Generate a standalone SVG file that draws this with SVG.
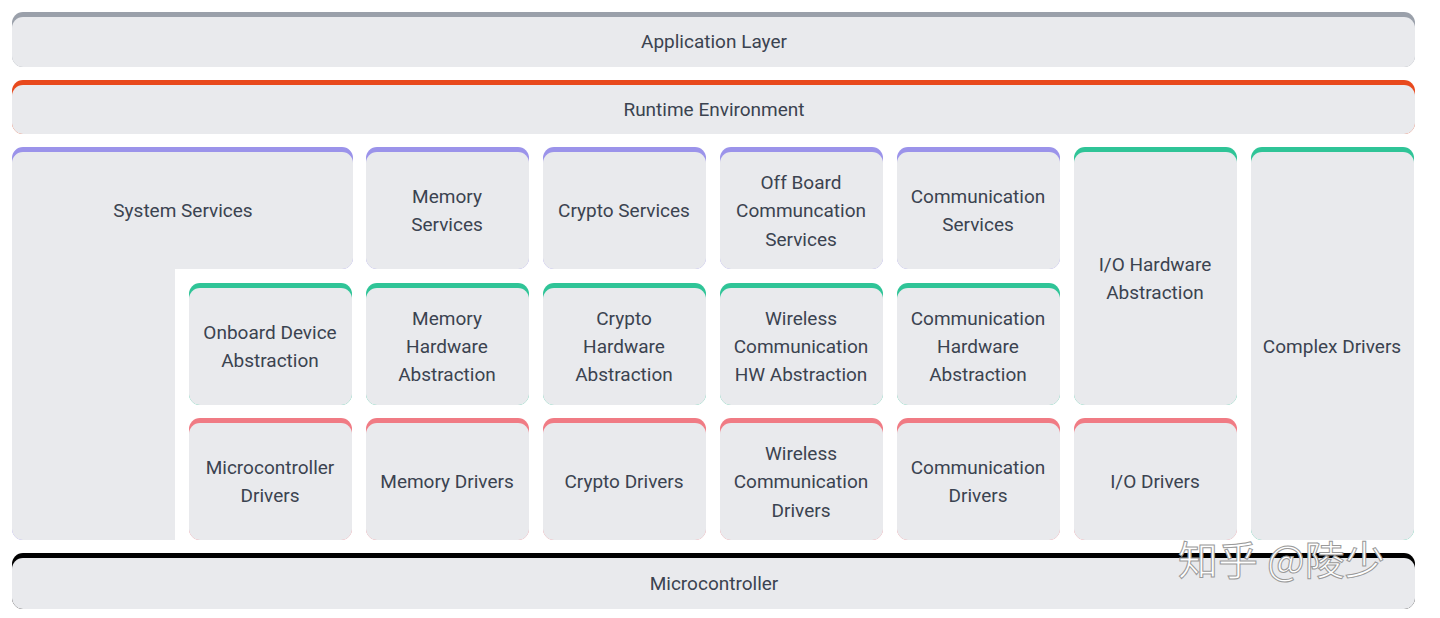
<svg xmlns="http://www.w3.org/2000/svg" width="1440" height="618" viewBox="0 0 1440 618">
<style>
.b{fill:#e9eaed}
.t{font-family:Roboto,"Liberation Sans",sans-serif;font-size:19px;fill:#3b4350;text-anchor:middle}
.g{fill:#9aa0aa}.r{fill:#e8491d}.p{fill:#9b93ea}.gr{fill:#2fc497}.pk{fill:#f07b84}.k{fill:#000}
.w{font-family:"Noto Sans CJK SC",sans-serif;font-size:40px;fill:#fff;stroke:#999;stroke-width:1;text-anchor:start}
</style>
<rect width="1440" height="618" fill="#fff"/>
<g id="app"><rect class="g" x="12" y="12" width="1403" height="55" rx="11"/><rect class="b" x="12" y="17" width="1403" height="50" rx="11"/><text class="t" x="714" y="48">Application Layer</text></g>
<g id="rte"><rect class="r" x="12" y="80" width="1403" height="54" rx="11"/><rect class="b" x="12" y="85" width="1403" height="49" rx="11"/><text class="t" x="714" y="116">Runtime Environment</text></g>
<g id="sys"><path class="p" d="M23 147H342a11 11 0 0 1 11 11V258a11 11 0 0 1-11 11H175V540H23a11 11 0 0 1-11-11V158a11 11 0 0 1 11-11Z"/><path class="b" d="M23 152H342a11 11 0 0 1 11 11V258a11 11 0 0 1-11 11H175V540H23a11 11 0 0 1-11-11V163a11 11 0 0 1 11-11Z"/><text class="t" x="183" y="217">System Services</text></g>
<g id="memsvc"><rect class="p" x="366" y="147" width="163" height="122" rx="11"/><rect class="b" x="366" y="152" width="163" height="117" rx="11"/><text class="t" x="447" y="203">Memory</text><text class="t" x="447" y="231">Services</text></g>
<g id="crysvc"><rect class="p" x="543" y="147" width="163" height="122" rx="11"/><rect class="b" x="543" y="152" width="163" height="117" rx="11"/><text class="t" x="624" y="217">Crypto Services</text></g>
<g id="offsvc"><rect class="p" x="720" y="147" width="163" height="122" rx="11"/><rect class="b" x="720" y="152" width="163" height="117" rx="11"/><text class="t" x="801" y="189">Off Board</text><text class="t" x="801" y="217">Communcation</text><text class="t" x="801" y="246">Services</text></g>
<g id="comsvc"><rect class="p" x="897" y="147" width="163" height="122" rx="11"/><rect class="b" x="897" y="152" width="163" height="117" rx="11"/><text class="t" x="978" y="203">Communication</text><text class="t" x="978" y="231">Services</text></g>
<g id="ioha"><rect class="gr" x="1074" y="147" width="163" height="258" rx="11"/><rect class="b" x="1074" y="152" width="163" height="253" rx="11"/><text class="t" x="1155" y="271">I/O Hardware</text><text class="t" x="1155" y="299">Abstraction</text></g>
<g id="cdd"><rect class="gr" x="1251" y="147" width="163" height="393" rx="11"/><rect class="b" x="1251" y="152" width="163" height="388" rx="11"/><text class="t" x="1332" y="353">Complex Drivers</text></g>
<g id="onb"><rect class="gr" x="189" y="283" width="163" height="122" rx="11"/><rect class="b" x="189" y="288" width="163" height="117" rx="11"/><text class="t" x="270" y="339">Onboard Device</text><text class="t" x="270" y="367">Abstraction</text></g>
<g id="memha"><rect class="gr" x="366" y="283" width="163" height="122" rx="11"/><rect class="b" x="366" y="288" width="163" height="117" rx="11"/><text class="t" x="447" y="325">Memory</text><text class="t" x="447" y="353">Hardware</text><text class="t" x="447" y="381">Abstraction</text></g>
<g id="cryha"><rect class="gr" x="543" y="283" width="163" height="122" rx="11"/><rect class="b" x="543" y="288" width="163" height="117" rx="11"/><text class="t" x="624" y="325">Crypto</text><text class="t" x="624" y="353">Hardware</text><text class="t" x="624" y="381">Abstraction</text></g>
<g id="wlha"><rect class="gr" x="720" y="283" width="163" height="122" rx="11"/><rect class="b" x="720" y="288" width="163" height="117" rx="11"/><text class="t" x="801" y="325">Wireless</text><text class="t" x="801" y="353">Communication</text><text class="t" x="801" y="381">HW Abstraction</text></g>
<g id="comha"><rect class="gr" x="897" y="283" width="163" height="122" rx="11"/><rect class="b" x="897" y="288" width="163" height="117" rx="11"/><text class="t" x="978" y="325">Communication</text><text class="t" x="978" y="353">Hardware</text><text class="t" x="978" y="381">Abstraction</text></g>
<g id="mcal"><rect class="pk" x="189" y="418" width="163" height="122" rx="11"/><rect class="b" x="189" y="423" width="163" height="117" rx="11"/><text class="t" x="270" y="474">Microcontroller</text><text class="t" x="270" y="502">Drivers</text></g>
<g id="memdrv"><rect class="pk" x="366" y="418" width="163" height="122" rx="11"/><rect class="b" x="366" y="423" width="163" height="117" rx="11"/><text class="t" x="447" y="488">Memory Drivers</text></g>
<g id="crydrv"><rect class="pk" x="543" y="418" width="163" height="122" rx="11"/><rect class="b" x="543" y="423" width="163" height="117" rx="11"/><text class="t" x="624" y="488">Crypto Drivers</text></g>
<g id="wldrv"><rect class="pk" x="720" y="418" width="163" height="122" rx="11"/><rect class="b" x="720" y="423" width="163" height="117" rx="11"/><text class="t" x="801" y="460">Wireless</text><text class="t" x="801" y="488">Communication</text><text class="t" x="801" y="517">Drivers</text></g>
<g id="comdrv"><rect class="pk" x="897" y="418" width="163" height="122" rx="11"/><rect class="b" x="897" y="423" width="163" height="117" rx="11"/><text class="t" x="978" y="474">Communication</text><text class="t" x="978" y="502">Drivers</text></g>
<g id="iodrv"><rect class="pk" x="1074" y="418" width="163" height="122" rx="11"/><rect class="b" x="1074" y="423" width="163" height="117" rx="11"/><text class="t" x="1155" y="488">I/O Drivers</text></g>
<g id="mcu"><rect class="k" x="12" y="553" width="1403" height="56" rx="11"/><rect class="b" x="12" y="558" width="1403" height="51" rx="11"/><text class="t" x="714" y="590">Microcontroller</text></g>
<g id="connectors"></g>
<text class="w" x="1178" y="575">知乎 @陵少</text>
</svg>
